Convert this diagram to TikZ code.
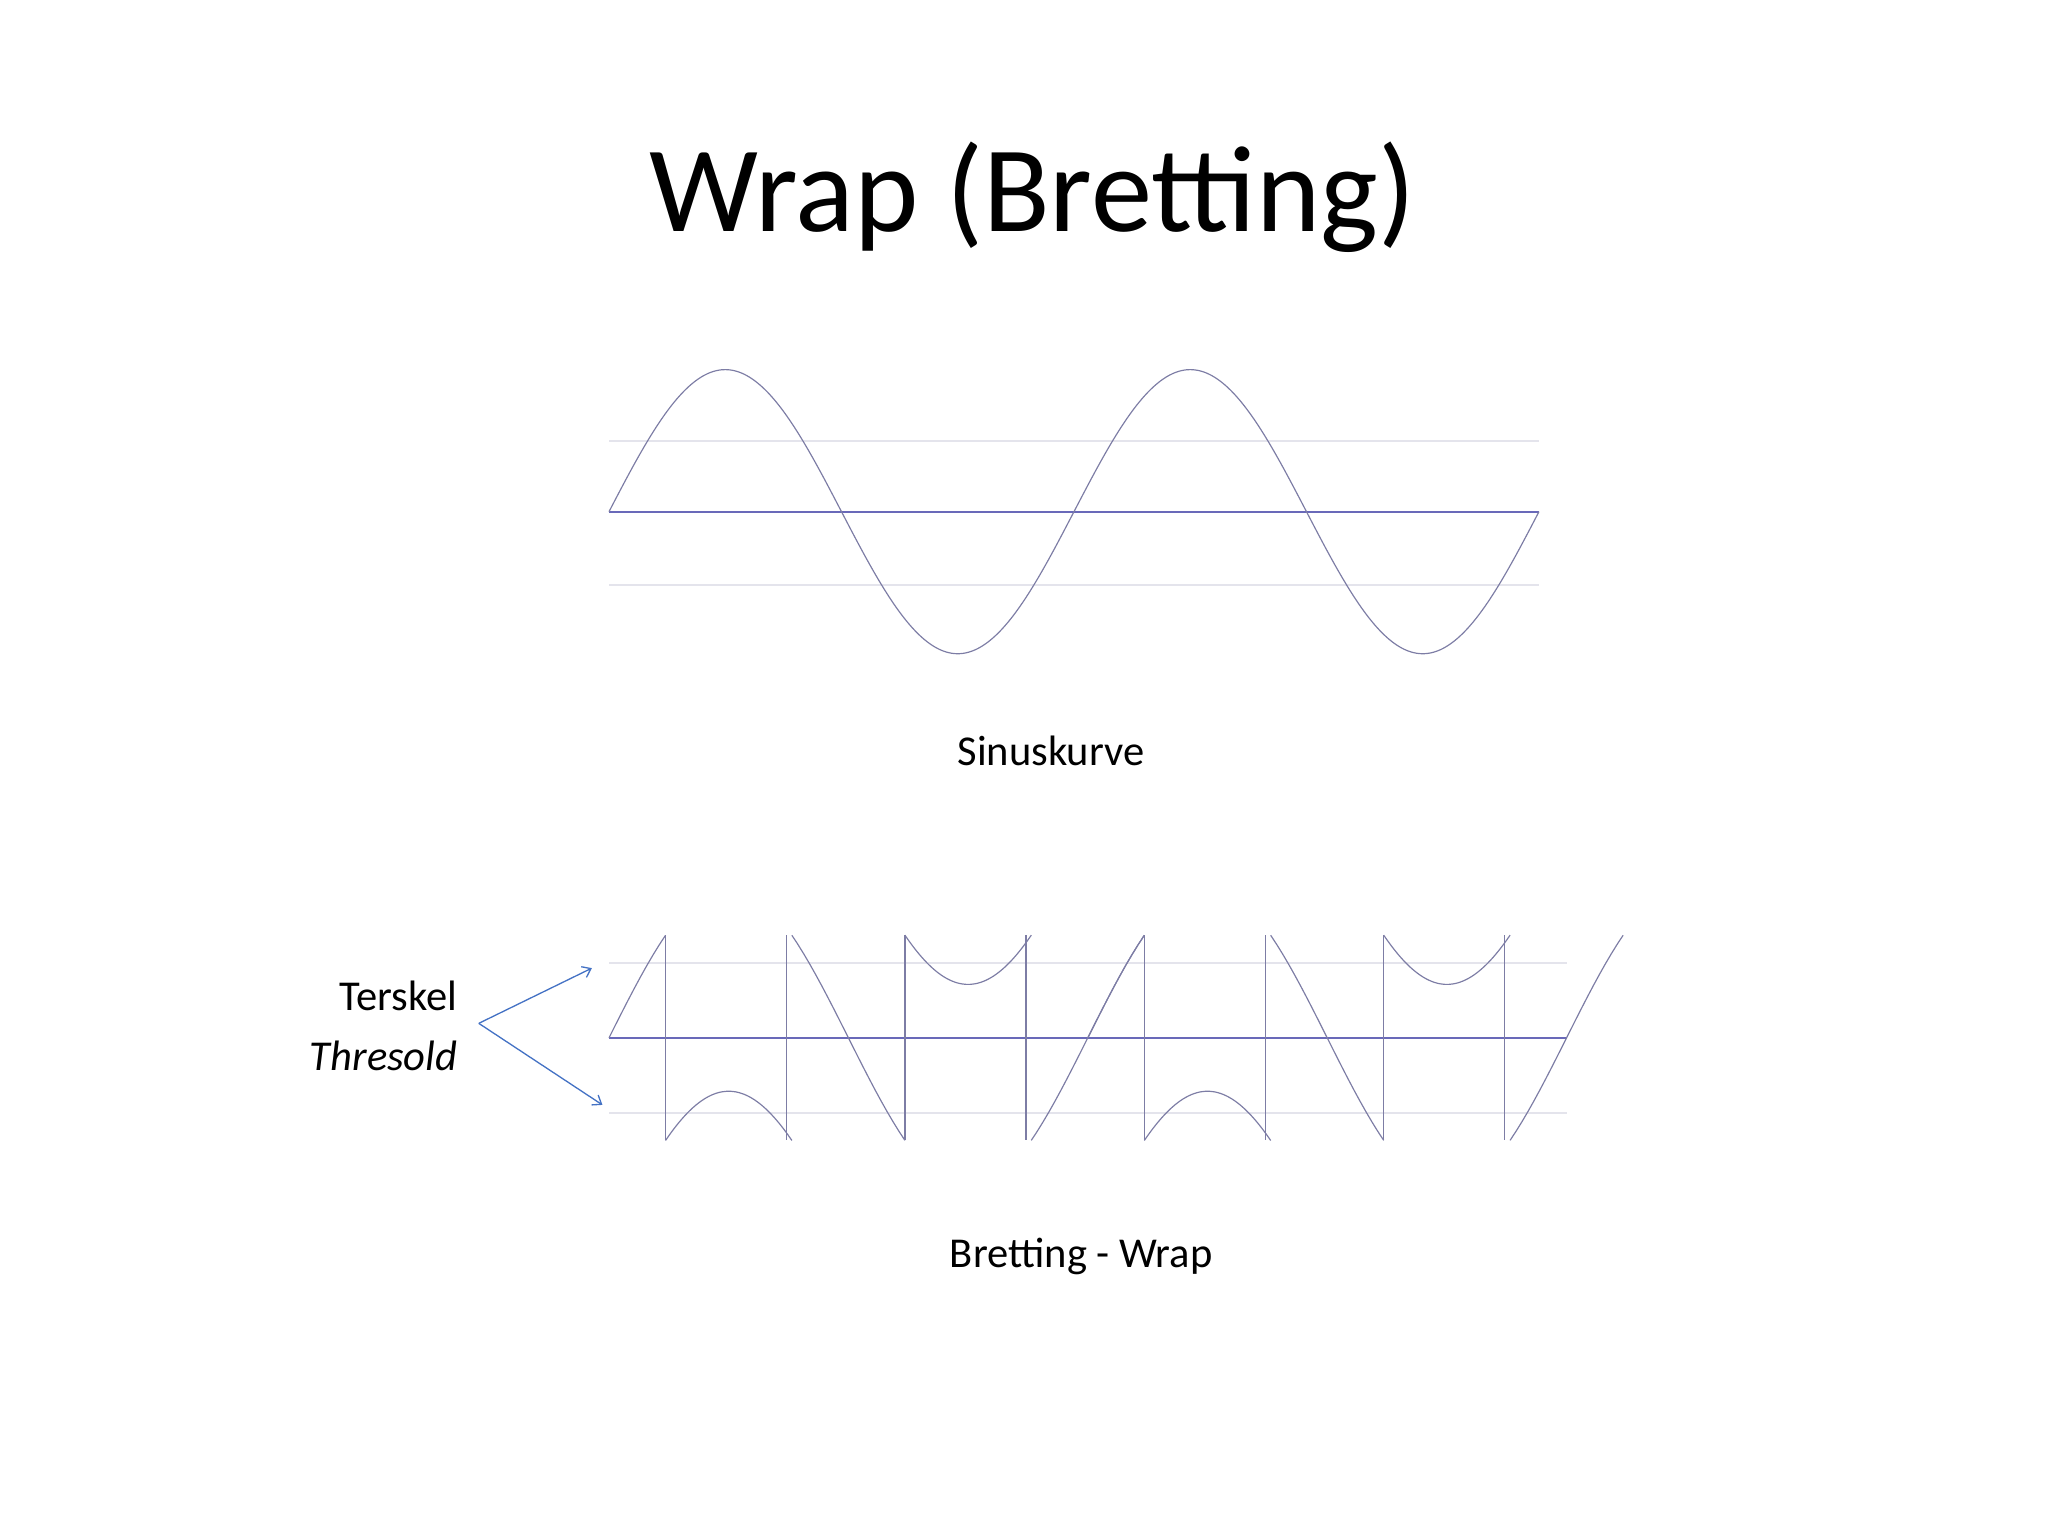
\documentclass[tikz,border=0pt]{standalone}
\usepackage{fontspec}
\usetikzlibrary{arrows.meta}
\setmainfont{Carlito}
\begin{document}
\begin{tikzpicture}[x=1mm,y=-1mm,
  curve/.style={draw={rgb,255:red,125;green,125;blue,165},line width=0.9mm},
  axisl/.style={draw={rgb,255:red,105;green,105;blue,185},line width=1.3mm},
  thr/.style={draw={rgb,255:red,228;green,228;blue,236},line width=1.3mm},
  arr/.style={draw={rgb,255:red,68;green,114;blue,196},line width=1mm,->,>={Straight Barb[length=6mm,width=9mm]}},
  lbl/.style={font=\fontsize{92}{110}\selectfont}]
\useasboundingbox (0,0) rectangle (1557,1167);
\node (title) at (785,150) {\fontsize{265}{300}\selectfont Wrap (Bretting)};
% top sine
\draw[thr] (463,335) -- (1170,335);
\draw[thr] (463,445) -- (1170,445);
\draw[axisl] (463,389) -- (1170,389);
\draw[curve] plot[domain=0:720,samples=200,smooth] ({463+\x/720*707},{389-108*sin(\x)});
\node[lbl] (s) at (799,571) {Sinuskurve};
% wrapped
\def\W{78}\def\A{115.4}
\draw[thr] (463,732) -- (1191,732);
\draw[thr] (463,846) -- (1191,846);
\draw[axisl] (463,789) -- (1191,789);
\foreach \o in {0,364}{
  \draw[curve] plot[domain=0:42.5,samples=10] ({463+\o+\x/360*364},{789-\A*sin(\x)});
  \draw[curve] plot[domain=42.5:137.5,samples=30,smooth] ({463+\o+\x/360*364},{789-(\A*sin(\x)-2*\W)});
  \draw[curve] plot[domain=137.5:222.5,samples=20] ({463+\o+\x/360*364},{789-\A*sin(\x)});
  \draw[curve] plot[domain=222.5:317.5,samples=30,smooth] ({463+\o+\x/360*364},{789-(\A*sin(\x)+2*\W)});
  \draw[curve] plot[domain=317.5:402.5,samples=20] ({463+\o+\x/360*364},{789-\A*sin(\x)});
}
\foreach \xx in {506,598,688,780,870,962,1052,1144}{\draw[curve] (\xx,711) -- (\xx,867);}
\coordinate (c) at (364,778);
\coordinate (t1) at (450,736);
\coordinate (t2) at (458,840);
\draw[arr] (c) -- (t1);
\draw[arr] (c) -- (t2);
\node[lbl,anchor=east] (ter) at (349,757) {Terskel};
\node[lbl,anchor=east] (thr) at (349,803) {\itshape Thresold};
\node[lbl] (bw) at (822,955) {Bretting - Wrap};
\end{tikzpicture}
\end{document}
